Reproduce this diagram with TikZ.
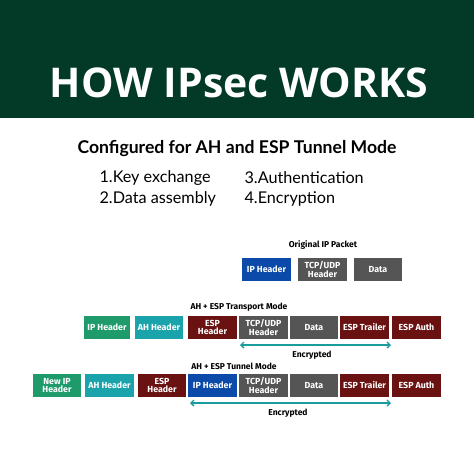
\documentclass[tikz,border=0pt]{standalone}
\usepackage{fontspec}
\usetikzlibrary{arrows.meta}
\newfontfamily\titlefont{Open Sans}
\newfontfamily\subfont{Lato}
\newfontfamily\boxfont{Fira Sans}
\definecolor{hdrgreen}{HTML}{023A27}
\definecolor{ipgreen}{HTML}{1F9B6B}
\definecolor{ahteal}{HTML}{1AA3AB}
\definecolor{espred}{HTML}{6A1111}
\definecolor{ipblue}{HTML}{0B4AA8}
\definecolor{pktgray}{HTML}{555555}
\definecolor{arrteal}{HTML}{1B9C9C}
\tikzset{
  pkt/.style={inner sep=0pt, text=white, font=\boxfont\bfseries\fontsize{8.8}{8.8}\selectfont, align=center},
  lbl/.style={font=\boxfont\bfseries\fontsize{8.5}{9}\selectfont, text=black},
  listtxt/.style={font=\subfont\fontsize{16.2}{18}\selectfont, anchor=west},
  enc/.style={draw=arrteal, line width=1.4pt, {Straight Barb[length=3pt,width=6pt]}-{Straight Barb[length=3pt,width=6pt]}}
}
\newcommand{\pbox}[7]{% name, x1, y1, x2, y2, color, text
  \fill[#6] (#2,#3) rectangle (#4,#5);
  \node[pkt] (#1) at ({(#2+#4)/2},{(#3+#5)/2}) {#7};
}
\begin{document}
\begin{tikzpicture}[x=1pt,y=-1pt]
\useasboundingbox (0,0) rectangle (474,474);
\fill[white] (0,0) rectangle (474,474);
\fill[hdrgreen] (0,0) rectangle (474,118);
\node[text=white, font=\titlefont\bfseries\fontsize{41}{46}\selectfont] (title) at (239,83) {HOW IPsec WORKS};
\node[font=\subfont\bfseries\fontsize{17.6}{20}\selectfont] (sub) at (237,149) {Configured for AH and ESP Tunnel Mode};
\node[listtxt] (l1) at (96,178) {1.Key exchange};
\node[listtxt] (l2) at (96,199) {2.Data assembly};
\node[listtxt] (l3) at (241,178) {3.Authentication};
\node[listtxt] (l4) at (241,199) {4.Encryption};
% original packet
\node[lbl] (orig) at (323,245) {Original IP Packet};
\pbox{oip}{242}{258}{291}{281}{ipblue}{IP Header}
\pbox{otcp}{298}{258}{347}{281}{pktgray}{TCP/UDP\\Header}
\pbox{odata}{354}{258}{402}{281}{pktgray}{Data}
% transport mode
\node[lbl] (trl) at (239,307) {AH + ESP Transport Mode};
\pbox{tip}{84}{316}{130}{339}{ipgreen}{IP Header}
\pbox{tah}{135}{316}{183}{339}{ahteal}{AH Header}
\pbox{tesp}{188}{316}{237}{339}{espred}{ESP\\Header}
\pbox{ttcp}{239}{316}{288}{339}{pktgray}{TCP/UDP\\Header}
\pbox{tdata}{290}{316}{338}{339}{pktgray}{Data}
\pbox{ttr}{340}{316}{389}{339}{espred}{ESP Trailer}
\pbox{tau}{392}{316}{441}{339}{espred}{ESP Auth}
\coordinate (ta) at (240,345);
\coordinate (tb) at (391,345);
\draw[enc] (ta) -- (tb);
\node[lbl] (tenc) at (312,355) {Encrypted};
% tunnel mode
\node[lbl] (tul) at (234,366) {AH + ESP Tunnel Mode};
\pbox{nip}{33}{374}{81}{397}{ipgreen}{New IP\\Header}
\pbox{uah}{85}{374}{134}{397}{ahteal}{AH Header}
\pbox{uesp}{138}{374}{186}{397}{espred}{ESP\\Header}
\pbox{uip}{188}{374}{237}{397}{ipblue}{IP Header}
\pbox{utcp}{239}{374}{288}{397}{pktgray}{TCP/UDP\\Header}
\pbox{udata}{290}{374}{338}{397}{pktgray}{Data}
\pbox{utr}{340}{374}{389}{397}{espred}{ESP Trailer}
\pbox{uau}{392}{374}{441}{397}{espred}{ESP Auth}
\coordinate (ua) at (190,403);
\coordinate (ub) at (391,403);
\draw[enc] (ua) -- (ub);
\node[lbl] (uenc) at (288,413) {Encrypted};
\end{tikzpicture}
\end{document}
